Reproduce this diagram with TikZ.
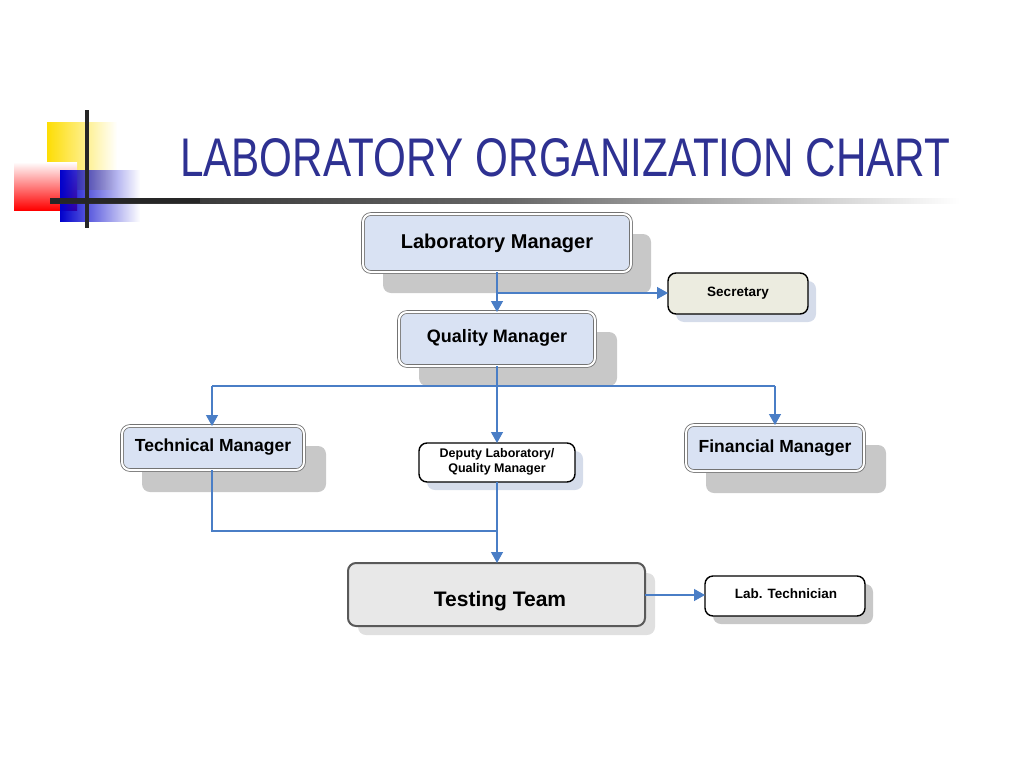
\documentclass[tikz,border=0pt]{standalone}
\usepackage{fontspec}
\setmainfont{Liberation Sans}
\usetikzlibrary{fadings,arrows.meta}
\definecolor{titleblue}{HTML}{2E3192}
\definecolor{boxblue}{HTML}{D9E2F3}
\definecolor{lineblue}{HTML}{4A7EC6}
\definecolor{shgray}{HTML}{C8C8C8}
\definecolor{shblue}{HTML}{D5DCEA}
\definecolor{secfill}{HTML}{ECECE0}
\tikzset{
  dbl/.style={rounded corners=8pt, draw=gray!90!black, double=white, double distance=2pt, line width=0.8pt, fill=boxblue},
  sgl/.style={rounded corners=8pt, draw=black, line width=1.4pt},
  conn/.style={draw=lineblue, line width=1.3pt},
  arr/.style={conn, -{Triangle[length=11pt,width=12pt]}},
  lbl/.style={font=\bfseries, inner sep=0pt}
}
\begin{document}
\begin{tikzpicture}[x=1pt,y=-1pt]
\useasboundingbox (0,0) rectangle (1024,768);
% decoration
\fill[yellow!80!orange, path fading=east] (47,122) rectangle (117,190);
\shade[shading angle=225, top color=white, bottom color=red] (14,162) rectangle (77,210);
\fill[blue!80!black, path fading=east] (60,170) rectangle (140,222);
\shade[left color=black!85, right color=white, middle color=black!60] (50,198) rectangle (960,203);
\fill[black!85] (50,198) rectangle (200,203);
\fill[black!85] (85,110) rectangle (89,228);
% title
\node[anchor=west, text=titleblue, inner sep=0pt] (title) at (180,158) {\resizebox{770pt}{38pt}{\fontsize{52}{52}\selectfont LABORATORY ORGANIZATION CHART}};
% shadows
\fill[shgray, rounded corners=8pt] (383,234) rectangle (651,293);
\fill[shblue, rounded corners=8pt] (676,281) rectangle (816,322);
\fill[shgray, rounded corners=8pt] (419,332) rectangle (617,386);
\fill[shgray, rounded corners=8pt] (142,446) rectangle (326,492);
\fill[shblue, rounded corners=8pt] (427,451) rectangle (583,490);
\fill[shgray, rounded corners=8pt] (706,445) rectangle (886,493);
\fill[black!12, rounded corners=8pt] (358,573) rectangle (655,635);
\fill[shgray, rounded corners=8pt] (713,584) rectangle (873,624);
% boxes
\draw[dbl] (363,214) rectangle (631,272);
\node[lbl, font=\fontsize{20}{20}\bfseries\selectfont] (lm) at (497,243) {Laboratory Manager};
\draw[sgl, fill=secfill] (668,273) rectangle (808,314);
\node[lbl, font=\fontsize{13.5}{14}\bfseries\selectfont] (sec) at (738,293) {Secretary};
\draw[dbl] (399,312) rectangle (595,366);
\node[lbl, font=\fontsize{18}{18}\bfseries\selectfont] (qm) at (497,338) {Quality Manager};
\draw[dbl] (122,426) rectangle (304,470);
\node[lbl, font=\fontsize{17.5}{18}\bfseries\selectfont] (tm) at (213,447) {Technical Manager};
\draw[sgl, fill=white] (419,443) rectangle (575,482);
\node[lbl, font=\fontsize{12.5}{15}\bfseries\selectfont, align=center] (dq) at (497,462) {Deputy Laboratory/\\Quality Manager};
\draw[dbl] (686,425) rectangle (864,471);
\node[lbl, font=\fontsize{17.5}{18}\bfseries\selectfont] (fm) at (775,448) {Financial Manager};
\draw[rounded corners=8pt, draw=black!65, line width=2pt, fill=black!9] (348,563) rectangle (645,626);
\node[lbl, font=\fontsize{21}{21}\bfseries\selectfont] (tt) at (500,601) {Testing Team};
\draw[sgl, fill=white] (705,576) rectangle (865,616);
\node[lbl, font=\fontsize{13.5}{14}\bfseries\selectfont] (lt) at (786,594) {Lab. Technician};
% coordinates
\coordinate (lmb) at (497,272);
\coordinate (qmt) at (497,312);
\coordinate (b1) at (497,293);
\coordinate (secl) at (668,293);
\coordinate (qmb) at (497,366);
\coordinate (hl) at (212,386);
\coordinate (hr) at (775,386);
\coordinate (tmt) at (212,426);
\coordinate (fmt) at (775,425);
\coordinate (dqt) at (497,443);
\coordinate (tmb) at (212,470);
\coordinate (j) at (497,531);
\coordinate (dqb) at (497,482);
\coordinate (ttt) at (497,563);
\coordinate (ttr) at (645,595);
\coordinate (ltl) at (705,595);
% connectors
\draw[arr] (lmb) -- (qmt);
\draw[arr] (b1) -- (secl);
\draw[arr] (qmb) -- (dqt);
\draw[conn] (hl) -- (hr);
\draw[arr] (hl) -- (tmt);
\draw[arr] (hr) -- (fmt);
\draw[conn] (tmb) |- (j);
\draw[arr] (dqb) -- (ttt);
\draw[arr] (ttr) -- (ltl);
\end{tikzpicture}
\end{document}
